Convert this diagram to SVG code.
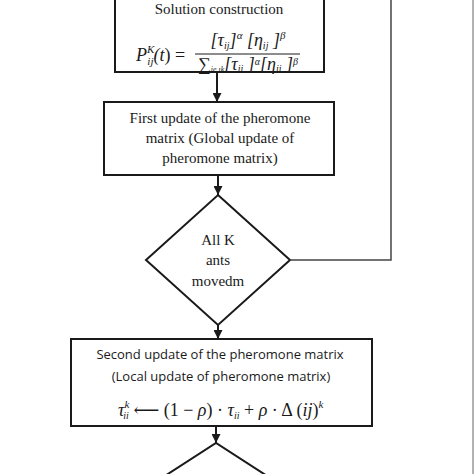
<svg xmlns="http://www.w3.org/2000/svg" width="474" height="474" viewBox="0 0 474 474">
<defs>
<style>
.box{fill:#fff;stroke:#1a1a1a;stroke-width:2}
.t{font-family:"Liberation Serif","DejaVu Serif",serif;font-size:15px;fill:#1a1a1a;text-anchor:middle}
.m{font-family:"Liberation Serif","DejaVu Serif",serif;font-style:italic;font-size:18px;fill:#1a1a1a}
.s{font-family:"Open Sans","Liberation Sans",sans-serif;font-size:13px;fill:#1a1a1a;text-anchor:middle}
.c{fill:none;stroke:#1a1a1a;stroke-width:2}
.fb{fill:none;stroke:#444;stroke-width:1.5}
</style>
<marker id="ah" viewBox="0 0 10 10" refX="10" refY="5" markerWidth="4.5" markerHeight="4.5" orient="auto" markerUnits="strokeWidth">
<path d="M0,0 L10,5 L0,10 z" fill="#1a1a1a"/>
</marker>
</defs>
<rect width="474" height="474" fill="#fff"/>
<line x1="473" y1="0" x2="473" y2="474" stroke="#999" stroke-width="1.5"/>

<g id="solution">
<rect class="box" x="115" y="-5" width="209" height="77"/>
<text class="t" x="219" y="14">Solution construction</text>
<text class="m" x="136" y="61">P<tspan font-size="11" dy="-8">K</tspan><tspan font-size="11" dx="-7" dy="12">ij</tspan><tspan dy="-4">(</tspan>t<tspan font-style="normal">) =</tspan></text>
<text class="m" x="248" y="46" text-anchor="middle" font-style="normal">[<tspan font-style="italic">τ</tspan><tspan font-size="10" font-style="italic" dy="3">ij</tspan><tspan dy="-3">]</tspan><tspan font-size="11" font-style="italic" dy="-7">α</tspan><tspan dy="7"> [</tspan><tspan font-style="italic">η</tspan><tspan font-size="10" font-style="italic" dy="3">ij</tspan><tspan dy="-3"> ]</tspan><tspan font-size="11" font-style="italic" dy="-7">β</tspan></text>
<line x1="195" y1="54" x2="300" y2="54" stroke="#1a1a1a" stroke-width="1"/>
<text class="m" x="248" y="70" text-anchor="middle" font-style="normal">∑<tspan font-size="8" font-style="italic" dy="2">ie ιk</tspan><tspan dy="-2">[</tspan><tspan font-style="italic">τ</tspan><tspan font-size="10" font-style="italic" dy="2">ii</tspan><tspan dy="-2"> ]</tspan><tspan font-size="10" font-style="italic" dy="-5">α</tspan><tspan dy="5">[</tspan><tspan font-style="italic">η</tspan><tspan font-size="10" font-style="italic" dy="2">ii</tspan><tspan dy="-2"> ]</tspan><tspan font-size="10" font-style="italic" dy="-5">β</tspan></text>
</g>

<g id="first-update">
<rect class="box" x="104" y="102" width="230" height="73"/>
<text class="t" x="220" y="123">First update of the pheromone</text>
<text class="t" x="220" y="143">matrix (Global update of</text>
<text class="t" x="220" y="163">pheromone matrix)</text>
</g>

<g id="all-k-moved">
<polygon class="c" fill="#fff" points="218,195 290,260 218,325 146,260"/>
<text class="t" x="218" y="245">All K</text>
<text class="t" x="218" y="265">ants</text>
<text class="t" x="218" y="286">movedm</text>
</g>

<g id="second-update">
<rect class="box" x="71" y="339" width="301" height="87"/>
<text class="s" x="220" y="359">Second update of the pheromone matrix</text>
<text class="s" x="221" y="381">(Local update of pheromone matrix)</text>
<text class="m" x="118" y="416" font-size="17">τ<tspan font-size="11" dy="-8">k</tspan><tspan font-size="10" dx="-6" dy="11">ii</tspan><tspan dy="-3" font-style="normal"> ⟵ (1 − </tspan>ρ<tspan font-style="normal">) · </tspan>τ<tspan font-size="10" dy="3">ii</tspan><tspan dy="-3" font-style="normal"> + </tspan>ρ<tspan font-style="normal"> · Δ (</tspan>ij<tspan font-style="normal">)</tspan><tspan font-size="11" dy="-8">k</tspan></text>
</g>

<g id="final-decision">
<polyline class="c" points="140,492 216,443 292,492"/>
</g>

<g id="connectors">
<line class="c" x1="217" y1="72" x2="217" y2="102" marker-end="url(#ah)"/>
<line class="c" x1="218" y1="175" x2="218" y2="195" marker-end="url(#ah)"/>
<line class="c" x1="218" y1="325" x2="218" y2="339" marker-end="url(#ah)"/>
<line class="c" x1="216" y1="426" x2="216" y2="443" marker-end="url(#ah)"/>
<polyline class="fb" points="290,260 391,260 391,0"/>
</g>
</svg>
